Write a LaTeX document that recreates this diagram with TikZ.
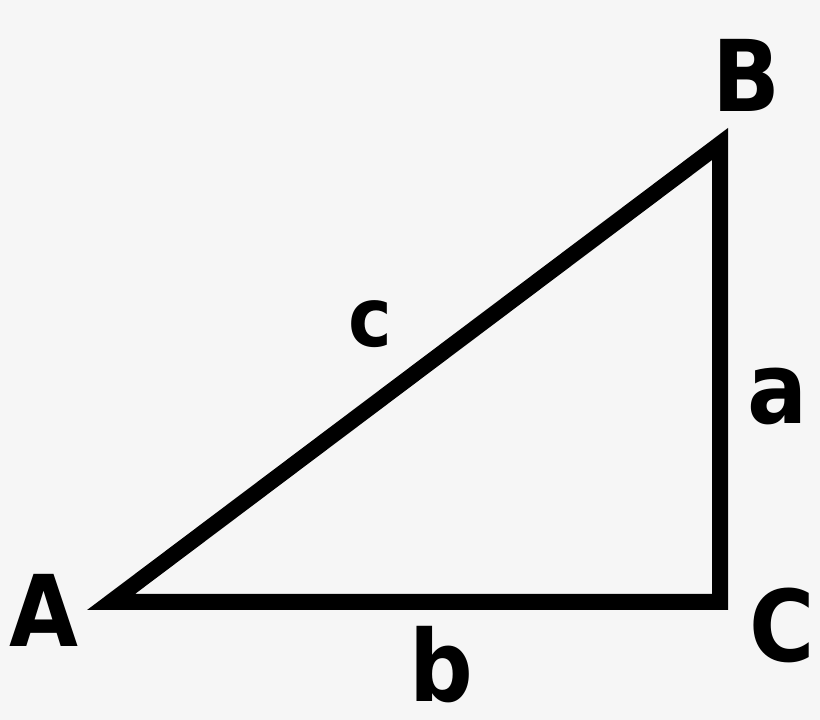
\documentclass[tikz,border=0pt]{standalone}
\usepackage{fontspec}
\setmainfont{DejaVu Sans}[FakeStretch=0.9]
\definecolor{bggray}{RGB}{246,246,246}
\tikzset{
  side/.style={line width=16pt, line join=miter},
  vlabel/.style={inner sep=0pt, font=\fontsize{99}{118}\selectfont\bfseries},
  slabel/.style={vlabel}
}
\begin{document}
\begin{tikzpicture}[x=1pt, y=1pt]

\fill [bggray] (0,0) rectangle (820,720);
\useasboundingbox (0,0) rectangle (820,720);

\coordinate (A) at (111,118);
\coordinate (C) at (720,118);
\coordinate (B) at (720,576);

\draw [side] (A) -- (C) -- (B) -- cycle;

% vertex names
\node [vlabel] (lA) at (43.5,109.5) {A};
\node [vlabel] (lB) at (746,644.5) {B};
\node [vlabel] (lC) at (782.5,95) {C};

% side names
\node [slabel] (la) at (778,323.5) {a};
\node [slabel] (lb) at (441.5,55.5) {b};
\node [slabel, font=\fontsize{82}{98}\selectfont\bfseries] (lc) at (370.5,395.5) {c};

\end{tikzpicture}
\end{document}
